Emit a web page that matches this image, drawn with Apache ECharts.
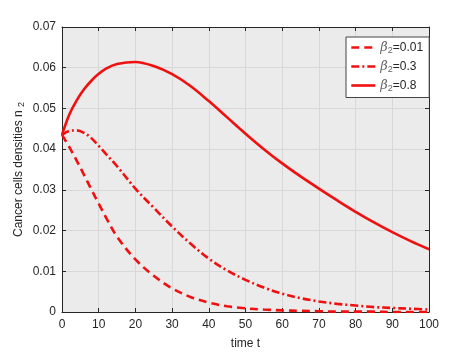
<!DOCTYPE html>
<html>
<head>
<meta charset="utf-8">
<script src="https://cdn.jsdelivr.net/npm/echarts@6/dist/echarts.min.js"></script>
<style>
html,body{margin:0;padding:0;background:#fff;}
#chart{width:474px;height:355px;}
</style>
</head>
<body>
<div id="chart"></div>
<script>
// ---- data ----
const time = [0,2,4,6,8,10,12,15,20,25,30,35,40,45,50,55,60,65,70,75,80,85,90,95,100];
const betaLabels = ['0.01','0.3','0.8'];
const n2Beta001 = [0.0435,0.0405,0.0372,0.0337,0.0301,0.0266,0.0232,0.0185,0.0129,0.0089,0.0058,0.0037,0.0023,0.0014,0.0009,0.0006,0.0004,0.0003,0.0002,0.0001,0.0001,0.0001,0.0000,0.0000,0.0000];
const n2Beta03  = [0.0435,0.0445,0.0446,0.0440,0.0427,0.0408,0.0388,0.0358,0.0303,0.0256,0.0210,0.0168,0.0131,0.0102,0.0079,0.0060,0.0045,0.0034,0.0026,0.0020,0.0016,0.0012,0.0010,0.0008,0.0006];
const n2Beta08  = [0.0435,0.0485,0.0520,0.0547,0.0568,0.0585,0.0598,0.0609,0.0614,0.0604,0.0584,0.0555,0.0518,0.0478,0.0438,0.0400,0.0365,0.0333,0.0303,0.0274,0.0246,0.0220,0.0196,0.0174,0.0154];
const xTicks = [0,10,20,30,40,50,60,70,80,90,100];
const yTicks = [0,0.01,0.02,0.03,0.04,0.05,0.06,0.07];

const pairs = arr => time.map((t,i)=>[t,arr[i]]);
const RED = '#f01010';
const AX = '#262626';
const FONT = '"Liberation Sans", Arial, Helvetica, sans-serif';

const chart = echarts.init(document.getElementById('chart'), null, {renderer:'canvas'});
const lineTypes = [[8,5], [8,3,2,3], 'solid'];
const allData = [n2Beta001, n2Beta03, n2Beta08];

const series = allData.map((d,i)=>({
  name: 'β2=' + betaLabels[i],
  type: 'line',
  data: pairs(d),
  showSymbol: false,
  symbol: 'none',
  smooth: 0.35,
  clip: true,
  lineStyle: {color: RED, width: 2.6, type: lineTypes[i]},
  itemStyle: {color: RED},
  z: 3
}));

const axisCommon = {
  axisLine: {show: true, onZero:false, lineStyle: {color: AX, width: 1}},
  axisTick: {show: true, inside: true, length: 4, lineStyle: {color: AX}},
  axisLabel: {color: AX, fontSize: 12, fontFamily: FONT},
};

chart.setOption({
  animation: false,
  backgroundColor: '#ffffff',
  textStyle: {fontFamily: FONT},
  grid: {left: 62, right: 45, top: 27, bottom: 38, show: true, backgroundColor: '#ebebeb', borderWidth: 0, containLabel: false},
  legend: {
    orient: 'vertical',
    left: 346, top: 37,
    padding: [4, 6, 4, 4],
    itemGap: 4.5,
    itemWidth: 24, itemHeight: 14,
    backgroundColor: '#ffffff',
    borderColor: '#444', borderWidth: 1,
    itemStyle: {opacity: 0},
    data: series.map((s,i)=>({name: s.name, itemStyle: {opacity: 0}, lineStyle: {color: RED, width: 2.6, type: lineTypes[i], opacity: 1}})),
    formatter: name => '{b|β}{s|2}{t|=' + name.split('=')[1] + '}',
    textStyle: {
      fontSize: 12, color: AX, fontFamily: FONT,
      rich: {
        b: {fontStyle: 'italic', fontSize: 13, color: '#666', fontFamily: '"DejaVu Serif", serif'},
        s: {fontSize: 9, color: '#666', padding: [7,0,0,0]},
        t: {fontSize: 12, color: AX}
      }
    }
  },
  xAxis: [
    Object.assign({}, axisCommon, {
      type: 'value', min: 0, max: 100, interval: 10, position: 'bottom',
      name: 'time t', nameLocation: 'middle', nameGap: 26, nameMoveOverlap: false,
      nameTextStyle: {color: AX, fontSize: 12, fontFamily: FONT},
      splitLine: {show: true, lineStyle: {color: '#d8d8d8', width: 1}},
      axisLabel: Object.assign({}, axisCommon.axisLabel, {margin: 7, customValues: xTicks}),
    }),
    Object.assign({}, axisCommon, {
      type: 'value', min: 0, max: 100, interval: 10, position: 'top',
      axisLabel: {show: false}, splitLine: {show: false}
    })
  ],
  yAxis: [
    Object.assign({}, axisCommon, {
      type: 'value', min: 0, max: 0.07, interval: 0.01, position: 'left',
      name: 'Cancer cells densities n {s|2}', nameLocation: 'middle', nameGap: 36, nameMoveOverlap: false,
      nameTextStyle: {color: AX, fontSize: 12, fontFamily: FONT, rich: {s: {fontSize: 9, color: AX, padding: [6,0,0,0]}}},
      splitLine: {show: true, lineStyle: {color: '#d8d8d8', width: 1}},
      axisLabel: Object.assign({}, axisCommon.axisLabel, {margin: 6, formatter: v => String(+v.toFixed(2))}),
    }),
    Object.assign({}, axisCommon, {
      type: 'value', min: 0, max: 0.07, interval: 0.01, position: 'right',
      axisLabel: {show: false}, splitLine: {show: false}
    })
  ],
  series: series
});
</script>
</body>
</html>
